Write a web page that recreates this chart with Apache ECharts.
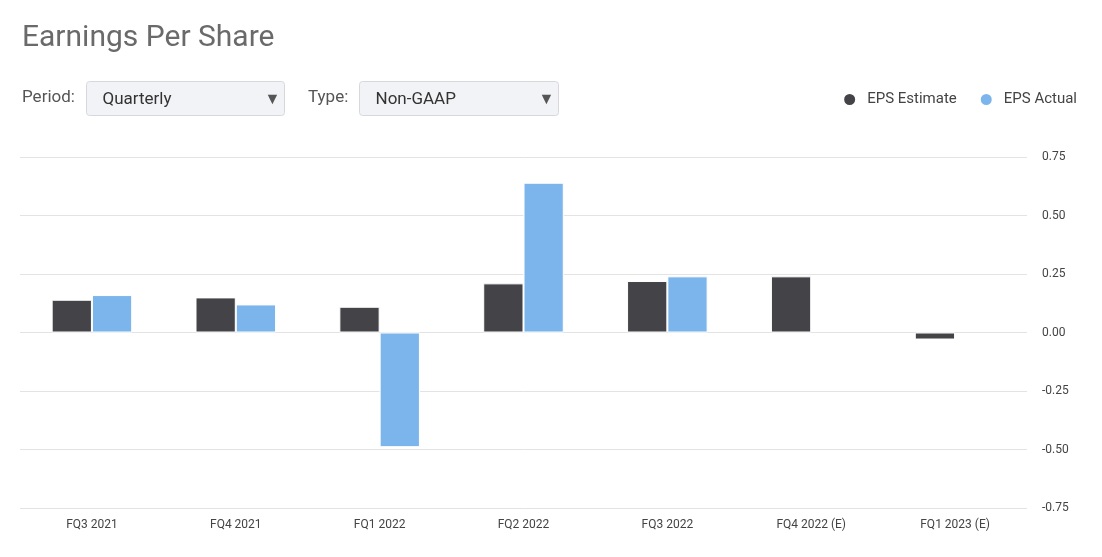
<!DOCTYPE html>
<html>
<head>
<meta charset="utf-8">
<script src="https://cdn.jsdelivr.net/npm/echarts@6/dist/echarts.min.js"></script>
<style>
html,body{margin:0;padding:0;background:#fff;}
#main{width:1102px;height:557px;}
</style>
</head>
<body>
<div id="main"></div>
<script>
const categories = ['FQ3 2021','FQ4 2021','FQ1 2022','FQ2 2022','FQ3 2022','FQ4 2022 (E)','FQ1 2023 (E)'];
const epsEstimate = [0.14, 0.15, 0.11, 0.21, 0.22, 0.24, -0.03];
const epsActual = [0.16, 0.12, -0.49, 0.64, 0.24, null, null];
const yTicks = {min: -0.75, max: 0.75, interval: 0.25};

const chart = echarts.init(document.getElementById('main'));
const FONT = 'Roboto, "Noto Sans", sans-serif';

function dropdown(x, w, text) {
  return {
    type: 'group', left: x, top: 81,
    children: [
      {type:'rect', shape:{x:0,y:0,width:w,height:34,r:3}, style:{fill:'#f2f3f6', stroke:'#d6d8dc', lineWidth:1}},
      {type:'text', x:16, y:18, style:{text:text, fontSize:17, fontFamily:FONT, fill:'#333', textVerticalAlign:'middle'}},
      {type:'text', x:w-20, y:18, style:{text:'▼', fontSize:16, fontFamily:FONT, fill:'#555', textVerticalAlign:'middle'}}
    ]
  };
}

chart.setOption({
  animation: false,
  textStyle: {fontFamily: FONT},
  title: {
    text: 'Earnings Per Share', left: 17, top: 18,
    textStyle: {fontSize: 30, fontWeight: 'normal', color: '#6a6a6a', fontFamily: FONT}
  },
  legend: {
    right: 20, top: 87,
    icon: 'circle', itemWidth: 13, itemHeight: 13, itemGap: 22,
    textStyle: {fontSize: 15, color: '#444', fontFamily: FONT, padding: [0,0,0,6]},
    data: ['EPS Estimate', 'EPS Actual']
  },
  graphic: [
    {type:'text', left: 22, top: 89, style:{text:'Period:', fontSize:17, fontFamily:FONT, fill:'#555'}},
    dropdown(86, 198, 'Quarterly'),
    {type:'text', left: 308, top: 89, style:{text:'Type:', fontSize:17, fontFamily:FONT, fill:'#555'}},
    dropdown(359, 199, 'Non-GAAP')
  ],
  grid: {left: 20, right: 75, top: 157, bottom: 49},
  xAxis: {
    type: 'category', data: categories,
    axisLine: {show: false}, axisTick: {show: false},
    axisLabel: {fontSize: 12, color: '#444', margin: 11, fontFamily: FONT}
  },
  yAxis: {
    type: 'value', position: 'right',
    min: yTicks.min, max: yTicks.max, interval: yTicks.interval,
    axisLine: {show: false}, axisTick: {show: false},
    splitLine: {lineStyle: {color: '#e3e3e3', width: 1}},
    axisLabel: {fontSize: 12, color: '#444', margin: 15, fontFamily: FONT,
      formatter: v => v.toFixed(2)}
  },
  series: [
    {
      name: 'EPS Estimate', type: 'bar', data: epsEstimate,
      barGap: '0%', barCategoryGap: '44%',
      itemStyle: {color: '#434348', borderColor: '#ffffff', borderWidth: 1}
    },
    {
      name: 'EPS Actual', type: 'bar', data: epsActual,
      itemStyle: {color: '#7cb5ec', borderColor: '#ffffff', borderWidth: 1}
    }
  ]
});
</script>
</body>
</html>
